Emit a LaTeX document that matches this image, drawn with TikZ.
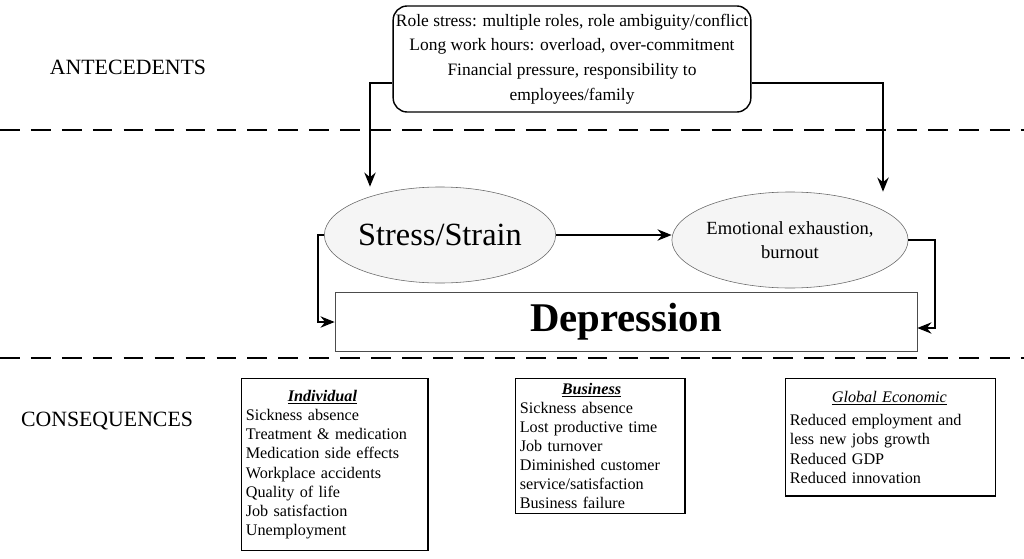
\documentclass[tikz,border=0pt]{standalone}
\usepackage{fontspec}
\setmainfont{Liberation Serif}
\usetikzlibrary{shapes.geometric,arrows.meta}
\tikzset{
  flow/.style={-{Stealth[length=10pt,width=8pt]},line width=1.6pt},
  sep/.style={dashed,line width=1.8pt,dash pattern=on 14pt off 8pt},
  oval/.style={shape=ellipse,draw=black!60,fill=black!4,minimum width=5.25cm,minimum height=2.4cm,inner sep=0pt,align=center},
  cons/.style={draw=black,line width=0.9pt,anchor=north west,align=left,font=\fontsize{11.5}{13.6}\selectfont,inner sep=3pt}
}
\begin{document}
\begin{tikzpicture}[x=0.025cm,y=-0.025cm]
    \useasboundingbox (0,0) rectangle (1024,558);
    \node[draw=black,line width=1pt,rounded corners=10pt,minimum width=8.5cm,minimum height=2.65cm,inner sep=2pt,align=center,font=\fontsize{12.4}{17.6}\selectfont] (roles) at (572,59) {Role stress: multiple roles, role ambiguity/conflict\\Long work hours: overload, over-commitment\\Financial pressure, responsibility to\\employees/family};
    \node[font=\fontsize{15.5}{18}\selectfont] (ante) at (128,67) {ANTECEDENTS};
    \node[font=\fontsize{15.5}{18}\selectfont] (conseq) at (107,421) {CONSEQUENCES};

    \draw[sep] (0,130) -- (1024,130);
    \draw[sep] (0,358) -- (1024,358);

    \node[oval,font=\fontsize{23}{26}\selectfont] (stress) at (440,235) {Stress/Strain};
    \node[oval,font=\fontsize{13.2}{17}\selectfont] (burn) at (790,240) {Emotional exhaustion,\\burnout};
    \node[draw=black!70,minimum width=14.55cm,minimum height=1.48cm,font=\fontsize{29}{32}\selectfont\bfseries] (dep) at (626,322) {Depression};

    \coordinate (cl) at (370,83);
    \coordinate (cr) at (883,83);
    \draw[flow] (roles.west |- cl) -| (stress.north -| cl);
    \draw[flow] (roles.east |- cr) -| (cr |- burn.north);
    \draw[flow] (stress.east) -- (burn.west |- stress.east);
    \coordinate (dl) at (318,322);
    \coordinate (dr) at (935,328);
    \draw[flow] (stress.west) -| (dl) -- (dep.west |- dl);
    \draw[flow] (burn.east) -| (dr) -- (dep.east |- dr);

    \node[cons,text width=4.45cm,minimum height=4.3cm] (indiv) at (241,378) {\hspace*{1.05cm}\underline{\textit{\textbf{Individual}}}\\Sickness absence\\Treatment \& medication\\Medication side effects\\Workplace accidents\\Quality of life\\Job satisfaction\\Unemployment};
    \node[cons,text width=4.02cm,minimum height=3.35cm] (busi) at (515,378) {\hspace*{1.05cm}\underline{\textit{\textbf{Business}}}\\Sickness absence\\Lost productive time\\Job turnover\\Diminished customer\\service/satisfaction\\Business failure};
    \node[cons,text width=5.03cm,minimum height=2.93cm] (glob) at (785,378) {\hspace*{1.05cm}\underline{\textit{Global Economic}}\\[3pt]Reduced employment and\\less new jobs growth\\Reduced GDP\\Reduced innovation};
\end{tikzpicture}
\end{document}
